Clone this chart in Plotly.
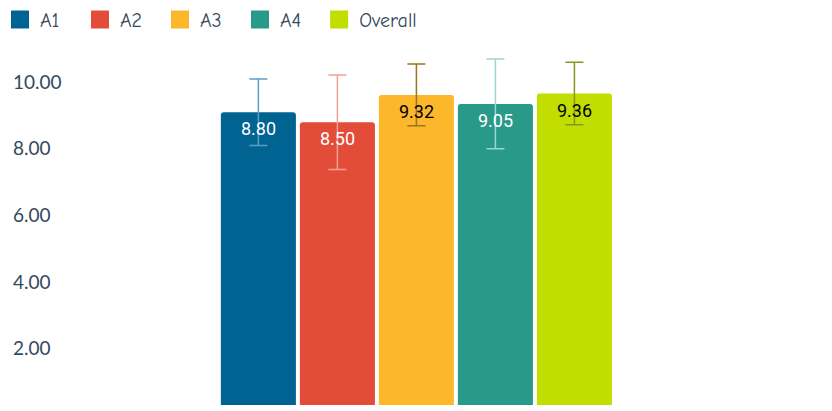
import plotly.graph_objects as go

NAMES = ['A1', 'A2', 'A3', 'A4', 'Overall']
MEANS = [8.80, 8.50, 9.32, 9.05, 9.36]
ERRORS = [1.00, 1.42, 0.93, 1.35, 0.94]

BAR_COLORS = ['#006391', '#e34c39', '#fdb72a', '#29998a', '#c2de00']
ERR_COLORS = ['#5b9ec2', '#f2a093', '#9a7424', '#9ad6d2', '#8a9622']
TEXT_COLORS = ['white', 'white', 'black', 'white', 'black']

LEGEND_FONT = dict(family="Comic Sans MS, Comic Neue, Lato, sans-serif",
                   size=20, color='#34495e')

fig = go.Figure()

for i, (name, mean, err, color, ecolor, tcolor) in enumerate(
        zip(NAMES, MEANS, ERRORS, BAR_COLORS, ERR_COLORS, TEXT_COLORS)):
    fig.add_trace(go.Bar(x=[name], y=[mean], name=name,
                         marker=dict(color=color, line=dict(width=0)),
                         error_y=dict(type='data', array=[err], color=ecolor,
                                      thickness=1.5, width=9),
                         showlegend=False, hoverinfo='skip'))
    # labels sit just under the top of each bar
    fig.add_annotation(x=name, y=mean, text=f"{mean:.2f}", showarrow=False,
                       yanchor='top', yshift=-4,
                       font=dict(family="Roboto", size=18, color=tcolor))
    # bigger square swatches for the legend; last one in its own legend so
    # the fixed entry width doesn't clip "Overall"
    fig.add_trace(go.Scatter(x=[None], y=[None], mode='markers', name=name,
                             legend='legend2' if i == len(NAMES) - 1 else 'legend',
                             marker=dict(symbol='square', size=16, color=color,
                                         line=dict(width=2, color=color))))

fig.update_layout(
    width=832, height=411,
    margin=dict(l=0, r=0, t=38, b=6),
    plot_bgcolor='white', paper_bgcolor='white',
    barmode='overlay', bargap=0.05, barcornerradius=3,
    legend=dict(orientation='h', x=-0.0046, y=1, yanchor='top', xanchor='left',
                yref='container', xref='container',
                entrywidth=35, itemwidth=30, font=LEGEND_FONT),
    legend2=dict(orientation='h', x=0.3836, y=1, yanchor='top', xanchor='left',
                 yref='container', xref='container', itemwidth=30, font=LEGEND_FONT),
    font=dict(family="Lato", color='#34495e'),
)
fig.update_xaxes(type='category', categoryorder='array', categoryarray=NAMES,
                 range=[-3.27, 7.26], showticklabels=False, showgrid=False,
                 zeroline=False, showline=False)
fig.update_yaxes(range=[0, 11], tickvals=[2, 4, 6, 8, 10], tickformat='.2f',
                 ticklabelposition='inside', ticklabelstandoff=10, ticklabelshift=10,
                 tickfont=dict(family="Lato", size=19, color='#34495e'),
                 showgrid=False, zeroline=False, showline=False)

fig.write_html("out.html", config={'displayModeBar': False},
               post_script="document.body.style.margin='0';")
